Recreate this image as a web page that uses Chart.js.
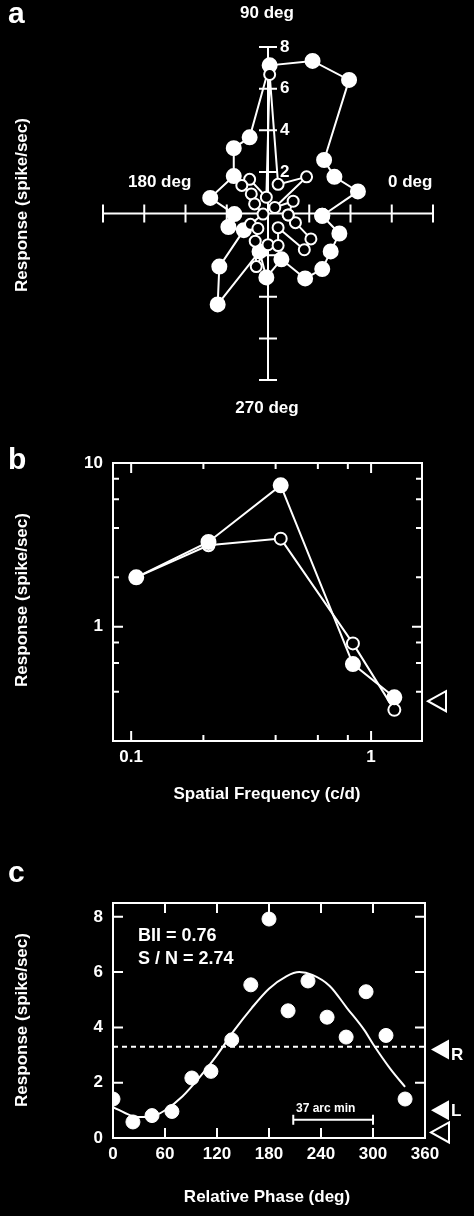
<!DOCTYPE html>
<html><head><meta charset="utf-8">
<script src="https://cdn.jsdelivr.net/npm/chart.js@4"></script>
<style>
body{margin:0;background:#000;width:474px;height:1216px;position:relative;overflow:hidden;font-family:"Liberation Sans",Arial,sans-serif;font-weight:bold;color:#fff}
canvas{position:absolute;left:0}
.t{position:absolute;white-space:nowrap;font-size:17px}
.c{transform:translateX(-50%)}
.r{transform:translate(-50%,-50%) rotate(-90deg)}
.big{font-size:30px}
</style></head><body>
<canvas id="ca" width="474" height="430" style="top:0"></canvas>
<canvas id="cb" width="474" height="400" style="top:440px"></canvas>
<canvas id="cc" width="474" height="356" style="top:860px"></canvas>

<div class="t big" style="left:8px;top:-4px">a</div>
<div class="t c" style="left:267px;top:3px">90 deg</div>
<div class="t" style="left:128px;top:172px">180 deg</div>
<div class="t" style="left:388px;top:172px">0 deg</div>
<div class="t c" style="left:267px;top:398px">270 deg</div>
<div class="t r" style="left:22px;top:205px">Response (spike/sec)</div>

<div class="t big" style="left:8px;top:442px">b</div>
<div class="t r" style="left:22px;top:600px">Response (spike/sec)</div>
<div class="t c" style="left:267px;top:784px">Spatial Frequency (c/d)</div>

<div class="t big" style="left:8px;top:855px">c</div>
<div class="t r" style="left:22px;top:1020px">Response (spike/sec)</div>
<div class="t c" style="left:267px;top:1187px">Relative Phase (deg)</div>
<div class="t" style="left:138px;top:925px;font-size:18px">BII = 0.76</div>
<div class="t" style="left:138px;top:948px;font-size:18px">S / N = 2.74</div>
<div class="t" style="left:296px;top:1101px;font-size:12px">37 arc min</div>
<div class="t" style="left:451px;top:1045px">R</div>
<div class="t" style="left:451px;top:1101px">L</div>

<script>
Chart.defaults.font.family = "Liberation Sans";
Chart.defaults.font.weight = "bold";
Chart.defaults.animation = false;

// ---- panel a: polar plot (x, y in spike/sec)
const polarFilledX = [2.63, 4.36, 3.22, 2.72, 3.93, 2.16, 0.08, -0.89, -1.66, -1.66, -2.80, -1.63, -1.92, -1.17, -2.36, -2.44, -0.41, -0.08, 0.65, 1.80, 2.63, 3.04, 3.46, 2.63];
const polarFilledY = [-0.11, 1.06, 1.76, 2.57, 6.42, 7.33, 7.12, 3.66, 3.14, 1.80, 0.75, -0.03, -0.65, -0.80, -2.55, -4.37, -1.82, -3.07, -2.20, -3.12, -2.67, -1.82, -0.96, -0.11];
const polarOpenX = [0.98, 1.22, 0.33, 1.87, 0.49, 0.08, -0.08, -0.89, -1.27, -0.81, -0.65, -0.24, -0.85, -0.49, -0.62, -0.57, 0.00, 0.49, 0.49, 1.76, 2.08, 1.33, 0.98];
const polarOpenY = [-0.07, 0.59, 0.29, 1.76, 1.40, 6.68, 0.78, 1.64, 1.35, 0.94, 0.46, -0.03, -0.52, -0.72, -1.33, -2.55, -1.50, -1.54, -0.68, -1.74, -1.22, -0.44, -0.07];
const polarTicks = [2, 4, 6, 8];

// ---- panel b: spatial frequency tuning
const sfFreq = [0.105, 0.21, 0.42, 0.84, 1.25];
const sfFilled = [2.0, 3.29, 7.3, 0.59, 0.37];
const sfOpen = [2.0, 3.14, 3.45, 0.79, 0.31];
const sfSpont = 0.35;

// ---- panel c: relative phase
const phase = [0, 23, 45, 68, 91, 113, 137, 159, 180, 202, 225, 247, 269, 292, 315, 337];
const phaseResp = [1.41, 0.58, 0.81, 0.96, 2.17, 2.41, 3.55, 5.54, 7.92, 4.60, 5.68, 4.37, 3.65, 5.29, 3.71, 1.41];
const fitPhase = [0, 20, 30, 45, 60, 80, 100, 120, 140, 160, 180, 200, 215, 230, 250, 270, 290, 300, 320, 337];
const fitResp = [1.12, 0.82, 0.76, 0.78, 1.0, 1.5, 2.2, 3.0, 3.9, 4.7, 5.4, 5.85, 6.0, 5.9, 5.5, 4.7, 3.9, 3.4, 2.5, 1.85];
const meanResp = 3.3;
const markerR = 3.2, markerL = 1.0, markerSpont = 0.2;
const barPhase = [208, 300], barResp = 0.66;

const pairs = (xs, ys) => xs.map((x, i) => ({ x, y: ys[i] }));

// cross axes for polar plot
const crossPlugin = {
  id: "cross",
  beforeDatasetsDraw(chart) {
    const { ctx, scales: { x, y } } = chart;
    const x0 = x.getPixelForValue(0), y0 = y.getPixelForValue(0);
    ctx.save();
    ctx.strokeStyle = "#fff"; ctx.lineWidth = 2;
    ctx.beginPath();
    ctx.moveTo(x.getPixelForValue(-8), y0); ctx.lineTo(x.getPixelForValue(8), y0);
    ctx.moveTo(x0, y.getPixelForValue(-8)); ctx.lineTo(x0, y.getPixelForValue(8));
    [-8, -6, -4, -2, 2, 4, 6, 8].forEach(v => {
      const px = x.getPixelForValue(v), py = y.getPixelForValue(v);
      ctx.moveTo(px, y0 - 9); ctx.lineTo(px, y0 + 9);
      ctx.moveTo(x0 - 9, py); ctx.lineTo(x0 + 9, py);
    });
    ctx.stroke();
    ctx.fillStyle = "#fff"; ctx.font = "bold 17px 'Liberation Sans'";
    ctx.textBaseline = "middle";
    polarTicks.forEach(v => ctx.fillText(String(v), x0 + 12, y.getPixelForValue(v)));
    ctx.restore();
  }
};

// framed box with inward ticks on every side, plus side markers outside the box
function boxPlugin(isMajor, label, markers) {
  return {
    id: "box",
    afterDraw(chart) {
      const { ctx, chartArea: a, scales: { x, y } } = chart;
      ctx.save();
      ctx.strokeStyle = "#fff"; ctx.lineWidth = 2;
      ctx.strokeRect(a.left, a.top, a.right - a.left, a.bottom - a.top);
      ctx.fillStyle = "#fff"; ctx.font = "bold 17px 'Liberation Sans'";
      ctx.beginPath();
      x.ticks.forEach(t => {
        if (t.value < x.min || t.value > x.max) return;
        const px = x.getPixelForValue(t.value), len = isMajor(t.value) ? 10 : 6;
        ctx.moveTo(px, a.bottom); ctx.lineTo(px, a.bottom - len);
        ctx.moveTo(px, a.top); ctx.lineTo(px, a.top + len);
        const s = label(t.value);
        if (s) { ctx.textAlign = "center"; ctx.textBaseline = "top"; ctx.fillText(s, px, a.bottom + 8); }
      });
      y.ticks.forEach(t => {
        if (t.value < y.min || t.value > y.max) return;
        const py = y.getPixelForValue(t.value), len = isMajor(t.value) ? 10 : 6;
        ctx.moveTo(a.left, py); ctx.lineTo(a.left + len, py);
        ctx.moveTo(a.right, py); ctx.lineTo(a.right - len, py);
        const s = label(t.value);
        if (s) { ctx.textAlign = "right"; ctx.textBaseline = "middle"; ctx.fillText(s, a.left - 10, py); }
      });
      ctx.stroke();
      markers.forEach(m => {
        const py = y.getPixelForValue(m.value), px = a.right + 6, h = 10;
        ctx.beginPath();
        ctx.moveTo(px, py); ctx.lineTo(px + 18, py - h); ctx.lineTo(px + 18, py + h); ctx.closePath();
        if (m.filled) ctx.fill(); else ctx.stroke();
      });
      ctx.restore();
    }
  };
}

const hidden = { display: false };

new Chart(document.getElementById("ca"), {
  type: "scatter",
  data: {
    datasets: [
      { data: pairs(polarOpenX, polarOpenY), showLine: true, borderColor: "#fff", borderWidth: 2,
        pointRadius: 5.5, pointBackgroundColor: "#000", pointBorderColor: "#fff", pointBorderWidth: 2 },
      { data: pairs(polarFilledX, polarFilledY), showLine: true, borderColor: "#fff", borderWidth: 2,
        pointRadius: 7, pointBackgroundColor: "#fff", pointBorderColor: "#fff" }
    ]
  },
  options: {
    responsive: false, devicePixelRatio: 1,
    layout: { padding: { left: 103, right: 41, top: 47, bottom: 50 } },
    plugins: { legend: hidden, tooltip: { enabled: false } },
    scales: { x: { display: false, min: -8, max: 8 }, y: { display: false, min: -8, max: 8 } }
  },
  plugins: [crossPlugin]
});

const isPow10 = v => Math.abs(Math.log10(v) - Math.round(Math.log10(v))) < 1e-6;
new Chart(document.getElementById("cb"), {
  type: "scatter",
  data: {
    datasets: [
      { data: pairs(sfFreq, sfFilled), showLine: true, borderColor: "#fff", borderWidth: 2,
        pointRadius: 7, pointBackgroundColor: "#fff", pointBorderColor: "#fff" },
      { data: pairs(sfFreq, sfOpen), showLine: true, borderColor: "#fff", borderWidth: 2,
        pointRadius: 6, pointBackgroundColor: "#000", pointBorderColor: "#fff", pointBorderWidth: 2 }
    ]
  },
  options: {
    responsive: false, devicePixelRatio: 1,
    layout: { padding: { left: 113, right: 52, top: 23, bottom: 99 } },
    plugins: { legend: hidden, tooltip: { enabled: false } },
    scales: {
      x: { type: "logarithmic", display: false, min: 0.084, max: 1.63 },
      y: { type: "logarithmic", display: false, min: 0.2, max: 10 }
    }
  },
  plugins: [boxPlugin(isPow10, v => isPow10(v) ? String(+v.toPrecision(3)) : "", [{ value: sfSpont, filled: false }])]
});

new Chart(document.getElementById("cc"), {
  type: "scatter",
  data: {
    datasets: [
      { data: pairs(phase, phaseResp), pointRadius: 7, pointBackgroundColor: "#fff", pointBorderColor: "#fff" },
      { data: pairs(fitPhase, fitResp), showLine: true, cubicInterpolationMode: "monotone",
        borderColor: "#fff", borderWidth: 2, pointRadius: 0 },
      { data: [{ x: 0, y: meanResp }, { x: 360, y: meanResp }], showLine: true, borderColor: "#fff",
        borderWidth: 2, borderDash: [5, 4], pointRadius: 0 },
      { data: pairs(barPhase, [barResp, barResp]), showLine: true, borderColor: "#fff", borderWidth: 2,
        pointStyle: "line", rotation: 90, pointRadius: 5, pointBorderColor: "#fff", pointBorderWidth: 2 }
    ]
  },
  options: {
    responsive: false, devicePixelRatio: 1,
    layout: { padding: { left: 113, right: 49, top: 43, bottom: 78 } },
    plugins: { legend: hidden, tooltip: { enabled: false } },
    scales: {
      x: { type: "linear", display: false, min: 0, max: 360, ticks: { stepSize: 60 } },
      y: { type: "linear", display: false, min: 0, max: 8.5, ticks: { stepSize: 2 } }
    }
  },
  plugins: [boxPlugin(v => true, v => (v % 2 === 0 ? String(v) : ""),
    [{ value: markerR, filled: true }, { value: markerL, filled: true }, { value: markerSpont, filled: false }])]
});
</script>
</body></html>
